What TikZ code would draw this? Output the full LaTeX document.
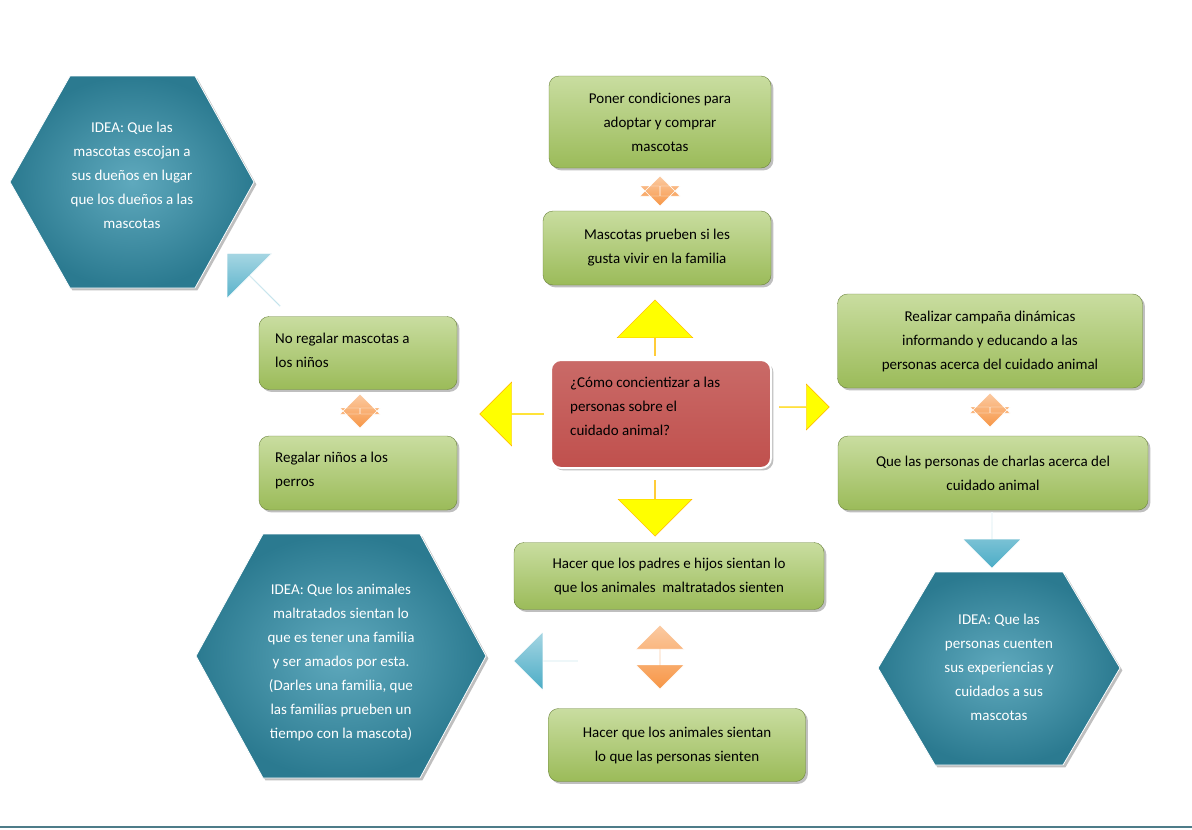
\documentclass[tikz,border=0pt]{standalone}
\usepackage{fontspec}
\setmainfont{Carlito}
\usetikzlibrary{shapes.geometric,shapes.arrows,shadows}
\definecolor{hexc}{HTML}{2B7A90}
\definecolor{hexl}{HTML}{5FA9BD}
\definecolor{grn}{HTML}{9BBB59}
\definecolor{grnl}{HTML}{C9DDA0}
\definecolor{redc}{HTML}{C0504D}
\definecolor{yel}{HTML}{FFFF00}
\definecolor{org}{HTML}{F79646}
\definecolor{blu}{HTML}{4BACC6}
\begin{document}
\begin{tikzpicture}[x=1pt,y=-1pt,
 hexp/.style={draw=white,line width=0.8pt,inner color=hexl,outer color=hexc,drop shadow},
 hext/.style={text=white,align=center,font=\fontsize{15}{24}\selectfont},
 box/.style={rounded corners=10pt,draw=grn!70!black,top color=grnl,bottom color=grn,text=black,font=\fontsize{15}{24}\selectfont,inner sep=0pt,drop shadow},
 lbl/.style={font=\fontsize{15}{24}\selectfont,align=left,anchor=west,inner sep=0pt},
 ya/.style={single arrow,draw=orange!60!yellow,fill=yel,minimum height=#1,inner sep=0pt},
 oa/.style={double arrow,draw=white,top color=org!50,bottom color=org,minimum height=#1,minimum width=40pt,double arrow head extend=8pt,inner sep=0pt,rotate=90},
 ba/.style={single arrow,draw=white,top color=blu!50,bottom color=blu,minimum height=#1,minimum width=58pt,single arrow head extend=14pt,inner sep=0pt}]
\useasboundingbox (0,0) rectangle (1192,830);
\fill[white] (0,0) rectangle (1192,830);
\draw[hexc!60!gray,line width=2pt] (0,827) -- (1192,827);
% hexagons
\path[hexp] (10,182) -- (70,76) -- (195,76) -- (254,182) -- (195,288) -- (70,288) -- cycle;
\node[hext] (h1) at (132,175) {IDEA: Que las\\mascotas escojan a\\sus dueños en lugar\\que los dueños a las\\mascotas};
\path[hexp] (196,656) -- (263,534) -- (420,534) -- (486,656) -- (420,778) -- (263,778) -- cycle;
\node[hext] (h2) at (341,662) {IDEA: Que los animales\\maltratados sientan lo\\que es tener una familia\\y ser amados por esta.\\(Darles una familia, que\\las familias prueben un\\tiempo con la mascota)};
\path[hexp] (878,668) -- (935,572) -- (1063,572) -- (1120,668) -- (1063,765) -- (935,765) -- cycle;
\node[hext] (h3) at (999,667) {IDEA: Que las\\personas cuenten\\sus experiencias y\\cuidados a sus\\mascotas};
% boxes
\node[box,minimum width=222pt,minimum height=92pt,align=center] (b1) at (660,122) {Poner condiciones para\\adoptar y comprar\\mascotas};
\node[box,minimum width=228pt,minimum height=74pt,align=center] (b2) at (657,248) {Mascotas prueben si les\\gusta vivir en la familia};
\node[box,minimum width=198pt,minimum height=73pt] (b3) at (358,353) {};
\node[lbl] (t3) at (275,350) {No regalar mascotas a\\los niños};
\node[box,minimum width=198pt,minimum height=74pt] (b4) at (358,473) {};
\node[lbl] (t4) at (275,470) {Regalar niños a los\\perros};
\node[box,minimum width=305pt,minimum height=94pt,align=center] (b5) at (990,341) {Realizar campaña dinámicas\\informando y educando a las\\personas acerca del cuidado animal};
\node[box,minimum width=310pt,minimum height=74pt,align=center] (b6) at (993,473) {Que las personas de charlas acerca del\\cuidado animal};
\node[box,minimum width=310pt,minimum height=67pt,align=center] (b7) at (669,576) {Hacer que los padres e hijos sientan lo\\que los animales\ \ maltratados sienten};
\node[box,minimum width=257pt,minimum height=73pt,align=center] (b8) at (677,745) {Hacer que los animales sientan\\lo que las personas sienten};
\node[box,draw=white,line width=2pt,top color=redc!85,bottom color=redc,minimum width=220pt,minimum height=108pt] (c) at (661,414) {};
\node[lbl] (ct) at (570,406) {¿Cómo concientizar a las\\personas sobre el\\cuidado animal?};
% yellow arrows
\node[ya=56pt,minimum width=76pt,single arrow head extend=18pt,rotate=90] (yu) at (655,328) {};
\node[ya=64pt,minimum width=64pt,single arrow head extend=12pt,rotate=180] (yl) at (512,414) {};
\node[ya=50pt,minimum width=46pt,single arrow head extend=9pt] (yr) at (804,407) {};
\node[ya=56pt,minimum width=74pt,single arrow head extend=17pt,rotate=-90] (yd) at (655,508) {};
% orange double arrows
\node[oa=30pt] (o1) at (660,191) {};
\node[oa=34pt] (o2) at (360,411) {};
\node[oa=34pt] (o3) at (990,410) {};
\node[oa=64pt,minimum width=48pt,double arrow head extend=10pt] (o4) at (660,657) {};
% blue arrows
\node[ba=74pt,minimum width=62pt,single arrow head extend=16pt,rotate=135] (bl1) at (254,280) {};
\node[ba=56pt] (bd) at (992,540) [rotate=-90] {};
\node[ba=64pt,rotate=180] (bl2) at (546,661) {};
\end{tikzpicture}
\end{document}
